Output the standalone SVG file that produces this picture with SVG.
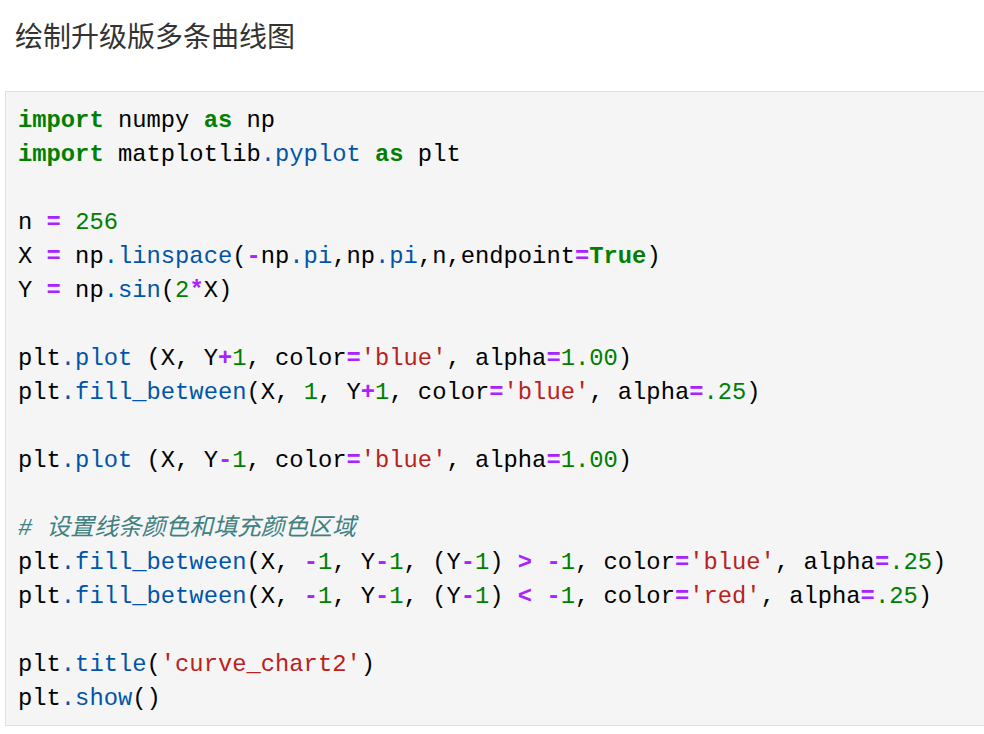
<svg xmlns="http://www.w3.org/2000/svg" width="984" height="734" viewBox="0 0 984 734" xml:space="preserve">
<style>
.t{font-family:"Noto Sans CJK SC","Noto Sans",sans-serif;font-size:28px;fill:#333}
.code{font-family:"Liberation Mono","DejaVu Sans Mono","Noto Sans CJK SC",monospace;font-size:23.8px;fill:#000;white-space:pre}
.k{fill:#008000;font-weight:bold}
.o{fill:#aa22ff;font-weight:bold}
.n{fill:#008000}
.s{fill:#ba2121}
.a{fill:#0055aa}
.c{fill:#408080;font-style:italic;font-family:"Liberation Mono","Noto Sans CJK SC",monospace}
</style>
<rect width="984" height="734" fill="#fff"/>
<text class="t" x="15" y="47">绘制升级版多条曲线图</text>
<rect x="5.5" y="91.5" width="985" height="634" fill="#f5f5f5" stroke="#e0e0e0"/>
<g class="code">
<text x="18" y="127"><tspan class="k">import</tspan> numpy <tspan class="k">as</tspan> np</text>
<text x="18" y="161"><tspan class="k">import</tspan> matplotlib<tspan class="a">.pyplot</tspan> <tspan class="k">as</tspan> plt</text>
<text x="18" y="229">n <tspan class="o">=</tspan> <tspan class="n">256</tspan></text>
<text x="18" y="263">X <tspan class="o">=</tspan> np<tspan class="a">.linspace</tspan>(<tspan class="o">-</tspan>np<tspan class="a">.pi</tspan>,np<tspan class="a">.pi</tspan>,n,endpoint<tspan class="o">=</tspan><tspan class="k">True</tspan>)</text>
<text x="18" y="297">Y <tspan class="o">=</tspan> np<tspan class="a">.sin</tspan>(<tspan class="n">2</tspan><tspan class="o">*</tspan>X)</text>
<text x="18" y="365">plt<tspan class="a">.plot</tspan> (X, Y<tspan class="o">+</tspan><tspan class="n">1</tspan>, color<tspan class="o">=</tspan><tspan class="s">'blue'</tspan>, alpha<tspan class="o">=</tspan><tspan class="n">1.00</tspan>)</text>
<text x="18" y="399">plt<tspan class="a">.fill_between</tspan>(X, <tspan class="n">1</tspan>, Y<tspan class="o">+</tspan><tspan class="n">1</tspan>, color<tspan class="o">=</tspan><tspan class="s">'blue'</tspan>, alpha<tspan class="o">=</tspan><tspan class="n">.25</tspan>)</text>
<text x="18" y="467">plt<tspan class="a">.plot</tspan> (X, Y<tspan class="o">-</tspan><tspan class="n">1</tspan>, color<tspan class="o">=</tspan><tspan class="s">'blue'</tspan>, alpha<tspan class="o">=</tspan><tspan class="n">1.00</tspan>)</text>
<text x="18" y="535" class="c"># 设置线条颜色和填充颜色区域</text>
<text x="18" y="569">plt<tspan class="a">.fill_between</tspan>(X, <tspan class="o">-</tspan><tspan class="n">1</tspan>, Y<tspan class="o">-</tspan><tspan class="n">1</tspan>, (Y<tspan class="o">-</tspan><tspan class="n">1</tspan>) <tspan class="o">&gt;</tspan> <tspan class="o">-</tspan><tspan class="n">1</tspan>, color<tspan class="o">=</tspan><tspan class="s">'blue'</tspan>, alpha<tspan class="o">=</tspan><tspan class="n">.25</tspan>)</text>
<text x="18" y="603">plt<tspan class="a">.fill_between</tspan>(X, <tspan class="o">-</tspan><tspan class="n">1</tspan>, Y<tspan class="o">-</tspan><tspan class="n">1</tspan>, (Y<tspan class="o">-</tspan><tspan class="n">1</tspan>) <tspan class="o">&lt;</tspan> <tspan class="o">-</tspan><tspan class="n">1</tspan>, color<tspan class="o">=</tspan><tspan class="s">'red'</tspan>,  alpha<tspan class="o">=</tspan><tspan class="n">.25</tspan>)</text>
<text x="18" y="671">plt<tspan class="a">.title</tspan>(<tspan class="s">'curve_chart2'</tspan>)</text>
<text x="18" y="705">plt<tspan class="a">.show</tspan>()</text>
</g>
</svg>
